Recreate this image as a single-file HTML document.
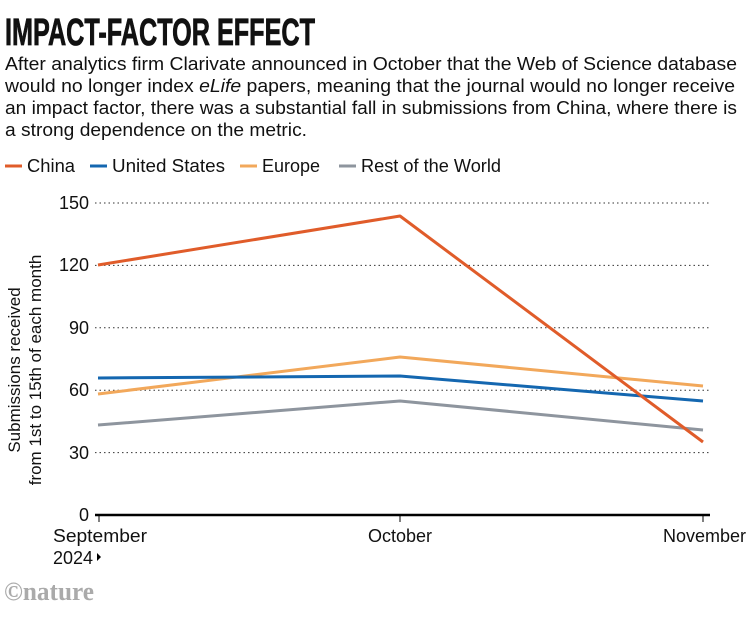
<!DOCTYPE html><html><head><style>body{margin:0;background:#fff}svg{display:block}text{font-family:"Liberation Sans",sans-serif;fill:#111}</style></head><body>
<svg width="751" height="620" xmlns="http://www.w3.org/2000/svg">
<text x="5" y="45" font-weight="bold" font-size="38" textLength="310" lengthAdjust="spacingAndGlyphs" style="font-family:'Liberation Sans Narrow','Liberation Sans',sans-serif;stroke:#111;stroke-width:0.8">IMPACT-FACTOR EFFECT</text>
<g font-size="18">
<text x="5" y="70" textLength="732" lengthAdjust="spacingAndGlyphs">After analytics firm Clarivate announced in October that the Web of Science database</text>
<text x="5" y="92" textLength="730" lengthAdjust="spacingAndGlyphs">would no longer index <tspan font-style="italic">eLife</tspan> papers, meaning that the journal would no longer receive</text>
<text x="5" y="114" textLength="732" lengthAdjust="spacingAndGlyphs">an impact factor, there was a substantial fall in submissions from China, where there is</text>
<text x="5" y="136" textLength="302" lengthAdjust="spacingAndGlyphs">a strong dependence on the metric.</text>
</g>
<g font-size="18">
<line x1="5" y1="166" x2="22" y2="166" stroke="#e05c2a" stroke-width="3"/><text x="27" y="172" textLength="48" lengthAdjust="spacingAndGlyphs">China</text>
<line x1="90" y1="166" x2="107" y2="166" stroke="#1467b0" stroke-width="3"/><text x="112" y="172" textLength="113" lengthAdjust="spacingAndGlyphs">United States</text>
<line x1="240" y1="166" x2="257" y2="166" stroke="#f2a85b" stroke-width="3"/><text x="262" y="172" textLength="58" lengthAdjust="spacingAndGlyphs">Europe</text>
<line x1="339" y1="166" x2="356" y2="166" stroke="#8e959e" stroke-width="3"/><text x="361" y="172" textLength="140" lengthAdjust="spacingAndGlyphs">Rest of the World</text>
</g>
<g stroke="#333" stroke-width="1" stroke-dasharray="1.5,3">
<line x1="95" y1="203" x2="710" y2="203"/><line x1="95" y1="265.4" x2="710" y2="265.4"/><line x1="95" y1="327.8" x2="710" y2="327.8"/><line x1="95" y1="390.2" x2="710" y2="390.2"/><line x1="95" y1="452.6" x2="710" y2="452.6"/>
</g>
<g font-size="18" text-anchor="end">
<text x="89" y="209">150</text><text x="89" y="271">120</text><text x="89" y="334">90</text><text x="89" y="396">60</text><text x="89" y="459">30</text><text x="89" y="521">0</text>
</g>
<g font-size="17" text-anchor="middle">
<text transform="translate(20,370) rotate(-90)">Submissions received</text>
<text transform="translate(41,370) rotate(-90)">from 1st to 15th of each month</text>
</g>
<g fill="none" stroke-width="3" stroke-linejoin="round">
<polyline points="98,425 400,401 703,430" stroke="#8e959e"/>
<polyline points="98,394 400,357 703,386" stroke="#f2a85b"/>
<polyline points="98,378 400,376 703,401" stroke="#1467b0"/>
<polyline points="98,265 400,216 703,442" stroke="#e05c2a"/>
</g>
<line x1="95" y1="515" x2="710" y2="515" stroke="#000" stroke-width="2.5"/>
<g stroke="#000" stroke-width="1"><line x1="99" y1="515" x2="99" y2="522"/><line x1="400" y1="515" x2="400" y2="522"/><line x1="703" y1="515" x2="703" y2="522"/></g>
<g font-size="18">
<text x="53" y="542" textLength="94" lengthAdjust="spacingAndGlyphs">September</text><text x="53" y="564">2024</text>
<polygon points="97,553 101,557 97,561" fill="#000"/>
<text x="400" y="542" text-anchor="middle">October</text>
<text x="746" y="542" text-anchor="end">November</text>
</g>
<text x="4" y="600" font-weight="bold" font-size="26" style="font-family:'Liberation Serif',serif;fill:#aaa" textLength="90" lengthAdjust="spacingAndGlyphs">©nature</text>
</svg>
</body></html>
